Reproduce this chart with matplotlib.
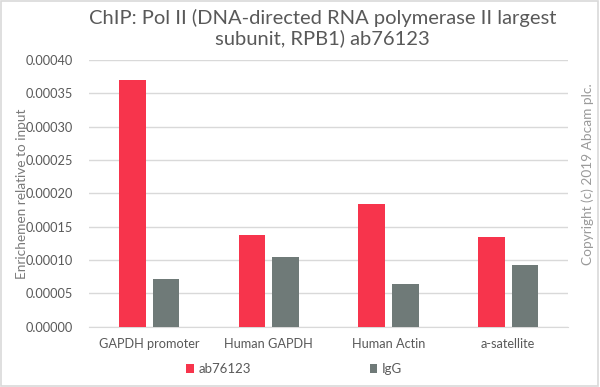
import numpy as np
import matplotlib.pyplot as plt
from matplotlib.patches import Rectangle

plt.rcParams['font.family'] = ['Lato', 'DejaVu Sans']

categories = ['GAPDH promoter', 'Human GAPDH', 'Human Actin', 'a-satellite']
ab76123 = [0.000370, 0.000137, 0.000184, 0.000135]
igg = [0.0000715, 0.000104, 0.0000645, 0.0000925]
series_names = ['ab76123', 'IgG']
yticks = [0.0, 0.00005, 0.0001, 0.00015, 0.0002, 0.00025, 0.0003, 0.00035, 0.0004]

red = '#F7344C'
grey = '#6F7A78'
text_col = '#595959'

fig = plt.figure(figsize=(6, 3.87), dpi=100)
ax = fig.add_axes([0.149, 0.156, 0.7975, 0.689])

x = np.arange(len(categories))
w = 0.223
off = 0.141
ax.bar(x - off, ab76123, w, color=red, label=series_names[0], zorder=3)
ax.bar(x + off, igg, w, color=grey, label=series_names[1], zorder=3)

ax.set_xlim(-0.5, len(categories) - 0.5)
ax.set_ylim(0, 0.0004)
ax.set_yticks(yticks)
ax.set_yticklabels([f'{v:.5f}' for v in yticks])
ax.set_xticks(x)
ax.set_xticklabels(categories)
ax.yaxis.grid(True, color='#d9d9d9', linewidth=1, zorder=0)
for s in ['top', 'right', 'left']:
    ax.spines[s].set_visible(False)
ax.spines['bottom'].set_color('#d9d9d9')
ax.tick_params(axis='both', length=0, labelsize=9.2, colors=text_col)
ax.tick_params(axis='x', pad=8)
ax.tick_params(axis='y', pad=12)

fig.text(0.538, 0.977, 'ChIP: Pol II (DNA-directed RNA polymerase II largest\nsubunit, RPB1) ab76123',
         ha='center', va='top', fontsize=14.5, color=text_col, linespacing=1.15)
fig.text(0.036, 0.5, 'Enrichemen relative to input', rotation=90, ha='center', va='center',
         fontsize=9.8, color='#7a7a7a')
fig.text(0.979, 0.55, 'Copyright (c) 2019 Abcam plc.', rotation=90, ha='center', va='center',
         fontsize=9.8, color='#9a9a9a')

fig.legend(loc='center', bbox_to_anchor=(0.49, 0.046), ncol=2, frameon=False,
           fontsize=9.5, labelcolor=text_col, handlelength=0.6, handleheight=0.6,
           handletextpad=0.3, columnspacing=9)

fig.patches.append(Rectangle((0.002, 0.003), 0.995, 0.994, transform=fig.transFigure,
                             fill=False, edgecolor='#d9d9d9', linewidth=1.2))

fig.savefig('out.png', dpi=100)
